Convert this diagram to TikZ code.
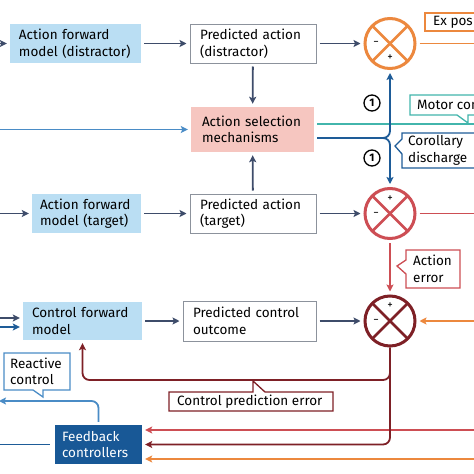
\documentclass[tikz,border=0pt]{standalone}
\usepackage{fontspec}
\setmainfont{Fira Sans}
\usetikzlibrary{arrows.meta,calc}
\definecolor{abl}{RGB}{186,222,243}
\definecolor{pnk}{RGB}{246,198,192}
\definecolor{slt}{RGB}{62,76,106}
\definecolor{lbl}{RGB}{74,140,198}
\definecolor{dbl}{RGB}{30,92,152}
\definecolor{tel}{RGB}{66,181,172}
\definecolor{org}{RGB}{236,136,62}
\definecolor{rd}{RGB}{205,78,84}
\definecolor{drd}{RGB}{126,32,38}
\definecolor{gbr}{RGB}{140,146,156}
\definecolor{fbf}{RGB}{24,88,150}
\newcommand\txs{\fontsize{13.5}{16.5}\selectfont}
\newcommand\sgs{\fontsize{11}{11}\selectfont}
\begin{document}
\begin{tikzpicture}[x=1pt,y=-1pt,font=\txs,
  bx/.style={inner ysep=0pt,align=left,anchor=center},
  arr/.style={-{Stealth[length=7pt,width=7pt,inset=1.5pt]},line width=1.8pt,shorten >=3pt,shorten <=3pt},
  ln/.style={line width=1.8pt},
  sumc/.style={circle,draw,line width=3pt,minimum size=50pt,inner sep=0pt},
  xl/.style={line width=2.6pt,shorten >=1pt,shorten <=1pt},
  sg/.style={font=\sgs,inner sep=0pt},
  co/.style={line width=1.3pt,fill=white},
  ct/.style={inner sep=0pt,anchor=west,align=left},
  one/.style={circle,draw=black,line width=1.3pt,minimum size=16pt,inner sep=0pt,font=\fontsize{11}{11}\selectfont\bfseries}]
\useasboundingbox (0,0) rectangle (474,474);

% boxes
\node[bx,fill=abl,minimum width=131pt,minimum height=39pt,inner xsep=9pt,text width=113pt] (afd) at (75.5,43.5) {Action~forward\\model~(distractor)};
\node[bx,draw=gbr,line width=1pt,fill=white,minimum width=126pt,minimum height=39pt,inner xsep=10pt,text width=106pt] (pad) at (253,43.5) {Predicted~action\\(distractor)};
\node[bx,fill=pnk,minimum width=123pt,minimum height=45pt,inner xsep=11pt,text width=101pt] (asm) at (252.5,129.5) {Action~selection\\mechanisms};
\node[bx,fill=abl,minimum width=109pt,minimum height=39pt,inner xsep=8pt,text width=93pt] (aft) at (86.5,213.5) {Action~forward\\model~(target)};
\node[bx,draw=gbr,line width=1pt,fill=white,minimum width=126pt,minimum height=39pt,inner xsep=10pt,text width=106pt] (pat) at (253,213.5) {Predicted~action\\(target)};
\node[bx,fill=abl,minimum width=119pt,minimum height=38pt,inner xsep=9pt,text width=101pt] (cfm) at (82.5,321) {Control~forward\\model};
\node[bx,draw=gbr,line width=1pt,fill=white,minimum width=133pt,minimum height=40pt,inner xsep=10pt,text width=113pt] (pco) at (249.5,321) {Predicted~control\\outcome};
\node[bx,fill=fbf,text=white,minimum width=87pt,minimum height=39pt,inner xsep=7pt,text width=73pt] (fbc) at (98.5,444.5) {Feedback\\controllers};

% comparators
\node[sumc,draw=org] (c1) at (390,43.5) {};
\node[sumc,draw=rd] (c2) at (390,213.5) {};
\node[sumc,draw=drd] (c3) at (390,321) {};
\foreach \c/\col in {c1/org,c2/rd,c3/drd}{
  \draw[xl,\col] (\c.45) -- (\c.225);
  \draw[xl,\col] (\c.135) -- (\c.-45);
}
\node[sg] (c1m) at (376,43.5) {−};
\node[sg] (c1p) at (390,58) {+};
\node[sg] (c2p) at (390,199) {+};
\node[sg] (c2m) at (376,214.5) {−};
\node[sg] (c3p) at (390,306) {+};
\node[sg] (c3m) at (376,321.5) {−};

% coordinates at the edges
\coordinate (in1) at (-10,43.5);
\coordinate (in2) at (-10,129.5);
\coordinate (in3) at (-10,213.5);
\coordinate (in4) at (-10,318);
\coordinate (in5) at (-10,327);
\coordinate (o1) at (480,43.5);
\coordinate (o2) at (480,124);
\coordinate (o3) at (480,213.5);
\coordinate (o4) at (480,321);
\coordinate (o5) at (480,430);
\coordinate (o6) at (480,459);
\coordinate (rc) at (-1,401);
\coordinate (fl) at (-5,444.5);
\coordinate (cpe) at (0,380);

% row 1
\draw[arr,slt] (in1) -- (afd.west);
\draw[arr,slt] (afd) -- (pad);
\draw[arr,slt] (pad) -- (c1);
\draw[ln,org,shorten <=3pt] (c1.east) -- (o1);
\draw[arr,slt] (pad) -- (asm);
\draw[arr,slt] (pat) -- (asm);
% row 2
\draw[arr,lbl] (in2) -- (asm.west);
\draw[ln,tel,shorten <=3pt] (o2 -| asm.east) -- (o2);
\coordinate (db0) at ($(asm.east)+(0,8.5)$);
\draw[arr,dbl,rounded corners=7pt] (db0) -| (c1.south);
\draw[arr,dbl,rounded corners=7pt] (db0) -| (c2.north);
% row 3
\draw[arr,slt] (in3) -- (aft.west);
\draw[arr,slt] (aft) -- (pat);
\draw[arr,slt] (pat) -- (c2);
\draw[ln,rd,shorten <=3pt] (c2.east) -- (o3);
\draw[arr,rd] (c2.south) -- (c3.north);
% row 4
\draw[arr,slt] (in4) -- (in4 -| cfm.west);
\draw[arr,dbl] (in5) -- (in5 -| cfm.west);
\draw[arr,slt] (cfm) -- (pco);
\draw[arr,slt] (pco) -- (c3);
\draw[arr,org] (o4) -- (c3.east);
% bottom
\draw[arr,rd,shorten <=0pt] (o5) -- (o5 -| fbc.east);
\draw[arr,org,shorten <=0pt] (o6) -- (o6 -| fbc.east);
\draw[arr,drd,rounded corners=7pt,shorten <=0pt] (c3.south) |- (fbc.east);
\draw[arr,drd,rounded corners=7pt,shorten <=0pt] (c3.south) -- (c3.south |- cpe) -- (cpe -| cfm.south) -- (cfm.south);
\draw[arr,lbl,rounded corners=7pt,shorten >=0pt] (fbc.north) |- (rc);
\draw[ln,dbl] ([xshift=-5pt]fbc.west) -- (fl);

% circled ones
\node[one,fill=white] (n1) at (372,103) {1};
\node[one,fill=white] (n2) at (372,158) {1};

% callouts
\draw[co,draw=org] (425,13) -- (480,13) -- (480,31) -- (425,31) -- cycle;
\node[ct] (t1) at (433,22) {Ex pos};
\draw[co,draw=tel] (410,95) -- (480,95) -- (480,115) -- (468,115) -- (468,123) -- (457,115) -- (410,115) -- cycle;
\node[ct] (t2) at (417,105) {Motor command};
\draw[co,draw=dbl] (402,133) -- (480,133) -- (480,168) -- (402,168) -- (402,154) -- (395,146) -- (402,139) -- cycle;
\node[ct] (t3) at (408,150.5) {Corollary\\discharge};
\draw[co,draw=rd] (406,250) -- (460,250) -- (460,288) -- (406,288) -- (406,274) -- (397,266) -- (406,260) -- cycle;
\node[ct] (t4) at (413,269) {Action\\error};
\draw[co,draw=drd] (169,392) -- (253,392) -- (253,381) -- (265,392) -- (333,392) -- (333,411) -- (169,411) -- cycle;
\node[ct] (t5) at (177,401.5) {Control prediction error};
\draw[co,draw=lbl] (4,353) -- (70,353) -- (70,390) -- (43,390) -- (43,397) -- (33,390) -- (4,390) -- cycle;
\node[ct] (t6) at (10,371.5) {Reactive\\control};
\end{tikzpicture}
\end{document}
